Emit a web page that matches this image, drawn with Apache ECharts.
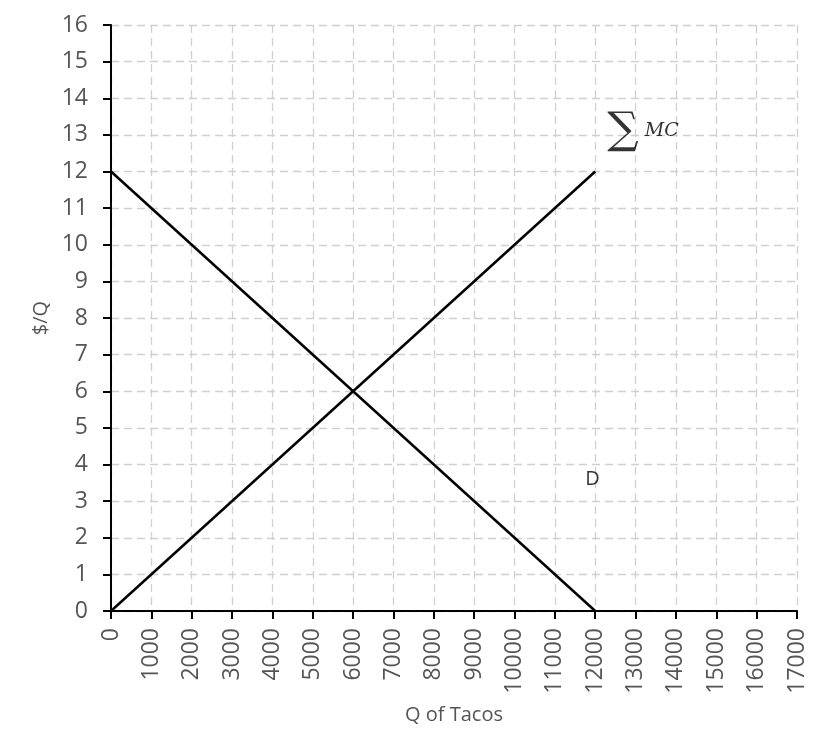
<!DOCTYPE html>
<html><head><meta charset="utf-8">
<script src="https://cdn.jsdelivr.net/npm/echarts@6/dist/echarts.min.js"></script>
<style>html,body{margin:0;padding:0;background:#fff}#c{width:821px;height:754px}</style>
</head><body><div id="c"></div>
<script>
const demandQ = [0, 12000];
const demandP = [12, 0];
const mcQ = [0, 12000];
const mcP = [0, 12];
const labelQ = [12300, 11750];
const labelP = [13.1, 3.6];
const labelText = ['{s|∑}{m|MC}', 'D'];

const chart = echarts.init(document.getElementById('c'));
const font = 'Open Sans, Liberation Sans, sans-serif';
chart.setOption({
  animation: false,
  grid: {left: 111, right: 24, top: 25, bottom: 143},
  xAxis: {
    type: 'value', min: 0, max: 17000, interval: 1000,
    name: 'Q of Tacos', nameLocation: 'middle', nameGap: 94,
    nameTextStyle: {fontFamily: font, fontSize: 20, color: '#555'},
    axisLine: {show: true, onZero: false, lineStyle: {color: '#000', width: 2}},
    axisTick: {show: true, length: 8, lineStyle: {color: '#000', width: 2}},
    axisLabel: {rotate: 90, margin: 17, fontFamily: font, fontSize: 23, color: '#555',
      formatter: v => String(v)},
    splitLine: {show: true, lineStyle: {color: '#d0d0d0', type: [8, 5], width: 1.3}}
  },
  yAxis: {
    type: 'value', min: 0, max: 16, interval: 1,
    name: '$/Q', nameLocation: 'middle', nameGap: 58, nameRotate: 90,
    nameTextStyle: {fontFamily: font, fontSize: 20, color: '#555'},
    axisLine: {show: true, onZero: false, lineStyle: {color: '#000', width: 2}},
    axisTick: {show: true, length: 8, lineStyle: {color: '#000', width: 2}},
    axisLabel: {margin: 23, fontFamily: font, fontSize: 23, color: '#555'},
    splitLine: {show: true, lineStyle: {color: '#d0d0d0', type: [8, 5], width: 1.3}}
  },
  series: [
    {type: 'line', data: demandQ.map((q, i) => [q, demandP[i]]), symbol: 'none',
     lineStyle: {color: '#000', width: 2.5}},
    {type: 'line', data: mcQ.map((q, i) => [q, mcP[i]]), symbol: 'none',
     lineStyle: {color: '#000', width: 2.5}},
    {type: 'scatter', symbolSize: 0,
     data: labelQ.map((q, i) => ({value: [q, labelP[i]], label: {formatter: labelText[i]}})),
     label: {show: true, position: 'right', distance: 0, color: '#000',
       fontFamily: font, fontSize: 20,
       rich: {
         s: {fontFamily: 'DejaVu Serif, serif', fontSize: 44, color: '#000', padding: [0, 6, 0, 0]},
         m: {fontFamily: 'DejaVu Serif, serif', fontStyle: 'italic', fontSize: 19, color: '#000'}
       }}
    }
  ]
});
</script></body></html>
